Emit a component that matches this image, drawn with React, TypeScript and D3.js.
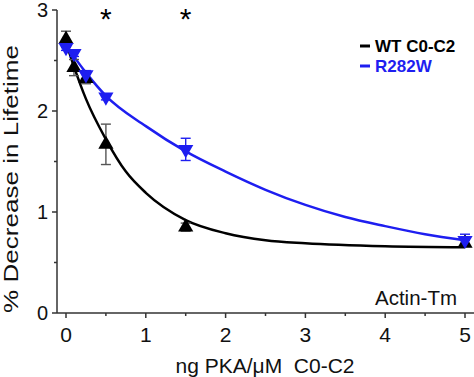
import React from "react";
import * as d3 from "d3";

// ---- data ----
const doses = [0, 0.1, 0.25, 0.5, 1.5, 5];
const wtMean = [2.71, 2.43, 2.32, 1.67, 0.85, 0.69];
const wtErr = [0.08, 0.08, 0.05, 0.2, 0.04, 0.03];
const mutDoses = [0, 0.1, 0.25, 0.5, 1.5, 5];
const mutMean = [2.63, 2.57, 2.36, 2.14, 1.62, 0.72];
const mutErr = [0.03, 0.03, 0.04, 0.03, 0.11, 0.06];

// fitted curves
const fitX = [0, 0.1, 0.25, 0.5, 0.75, 1, 1.5, 2, 2.5, 3, 4, 5];
const wtFit = [2.68, 2.44, 2.12, 1.72, 1.4, 1.19, 0.92, 0.79, 0.72, 0.69, 0.66, 0.65];
const mutFitX = [0, 0.25, 0.5, 1, 1.5, 2, 2.5, 3, 3.5, 4, 4.5, 5];
const mutFit = [2.65, 2.38, 2.15, 1.85, 1.6, 1.4, 1.22, 1.07, 0.95, 0.86, 0.78, 0.72];

const xTicks = [0, 1, 2, 3, 4, 5];
const xMinor = [0.5, 1.5, 2.5, 3.5, 4.5];
const yTicks = [0, 1, 2, 3];
const yMinor = [0.5, 1.5, 2.5];
const starDoses = [0.5, 1.5];
const seriesNames = ["WT C0-C2", "R282W"];

const BLUE = "#1e1ef0";
const FONT = "'Liberation Sans', Arial, sans-serif";

export default function App() {
  const W = 474, H = 377;
  const x = d3.scaleLinear().domain([0, 5]).range([66, 465]);
  const y = d3.scaleLinear().domain([0, 3]).range([313, 10]);
  const axisLeft = 57, axisRight = 474;

  const line = d3
    .line<[number, number]>()
    .x((d) => x(d[0]))
    .y((d) => y(d[1]))
    .curve(d3.curveMonotoneX);

  const tri = d3.symbol().type(d3.symbolTriangle).size(100)() as string;

  const errBar = (xv: number, m: number, e: number, color: string, key: string) => {
    const cx = x(xv);
    return (
      <g key={key} stroke={color} strokeWidth={1.4}>
        <line x1={cx} x2={cx} y1={y(m + e)} y2={y(m - e)} />
        <line x1={cx - 5} x2={cx + 5} y1={y(m + e)} y2={y(m + e)} />
        <line x1={cx - 5} x2={cx + 5} y1={y(m - e)} y2={y(m - e)} />
      </g>
    );
  };

  return (
    <svg
      width={W}
      height={H}
      style={{ position: "absolute", left: 0, top: 0, background: "#fff" }}
      fontFamily={FONT}
    >
      {/* axes */}
      <g stroke="#333" strokeWidth={1.5}>
        <line x1={axisLeft} x2={axisLeft} y1={y(3)} y2={y(0)} />
        <line x1={axisLeft} x2={axisRight} y1={y(0)} y2={y(0)} />
        {yTicks.map((t) => (
          <line key={"yt" + t} x1={axisLeft - 5} x2={axisLeft} y1={y(t)} y2={y(t)} />
        ))}
        {yMinor.map((t) => (
          <line key={"ym" + t} x1={axisLeft - 3} x2={axisLeft} y1={y(t)} y2={y(t)} />
        ))}
        {xTicks.map((t) => (
          <line key={"xt" + t} x1={x(t)} x2={x(t)} y1={y(0)} y2={y(0) + 5} />
        ))}
        {xMinor.map((t) => (
          <line key={"xm" + t} x1={x(t)} x2={x(t)} y1={y(0)} y2={y(0) + 3} />
        ))}
      </g>
      {yTicks.map((t) => (
        <text key={"yl" + t} x={48} y={y(t) + 7} textAnchor="end" fontSize={20} fill="#111">
          {t}
        </text>
      ))}
      {xTicks.map((t) => (
        <text key={"xl" + t} x={x(t)} y={342} textAnchor="middle" fontSize={21} fill="#111">
          {t}
        </text>
      ))}
      <text
        x={265}
        y={373}
        textAnchor="middle"
        fontSize={21}
        fill="#111"
        style={{ whiteSpace: "pre" }}
      >
        {"ng PKA/μM  C0-C2"}
      </text>
      <text
        transform="translate(18,179) rotate(-90)"
        textAnchor="middle"
        fontSize={20}
        fill="#111"
        textLength={268}
        lengthAdjust="spacingAndGlyphs"
      >
        % Decrease in Lifetime
      </text>

      {/* curves */}
      <path d={line(fitX.map((v, i) => [v, wtFit[i]]))!} fill="none" stroke="#000" strokeWidth={2.5} />
      <path d={line(mutFitX.map((v, i) => [v, mutFit[i]]))!} fill="none" stroke={BLUE} strokeWidth={2.5} />

      {/* error bars */}
      {doses.map((d, i) => errBar(d, wtMean[i], wtErr[i], "#555", "we" + i))}
      {mutDoses.map((d, i) => errBar(d, mutMean[i], mutErr[i], BLUE, "me" + i))}

      {/* markers */}
      {doses.map((d, i) => (
        <path key={"wm" + i} d={tri} transform={`translate(${x(d)},${y(wtMean[i])})`} fill="#000" />
      ))}
      {mutDoses.map((d, i) => (
        <path
          key={"mm" + i}
          d={tri}
          transform={`translate(${x(d)},${y(mutMean[i])}) rotate(180)`}
          fill={BLUE}
        />
      ))}

      {/* significance stars */}
      {starDoses.map((d) => (
        <text key={"s" + d} x={x(d)} y={29} textAnchor="middle" fontSize={30} fill="#000">
          *
        </text>
      ))}

      {/* legend */}
      <line x1={360} x2={370} y1={46} y2={46} stroke="#000" strokeWidth={3} />
      <text x={375} y={52} fontSize={17} fontWeight="bold" fill="#000">
        {seriesNames[0]}
      </text>
      <line x1={360} x2={370} y1={66} y2={66} stroke={BLUE} strokeWidth={3} />
      <text x={375} y={72} fontSize={17} fontWeight="bold" fill={BLUE}>
        {seriesNames[1]}
      </text>

      <text x={375} y={305} fontSize={20.5} fill="#111">
        Actin-Tm
      </text>
    </svg>
  );
}
